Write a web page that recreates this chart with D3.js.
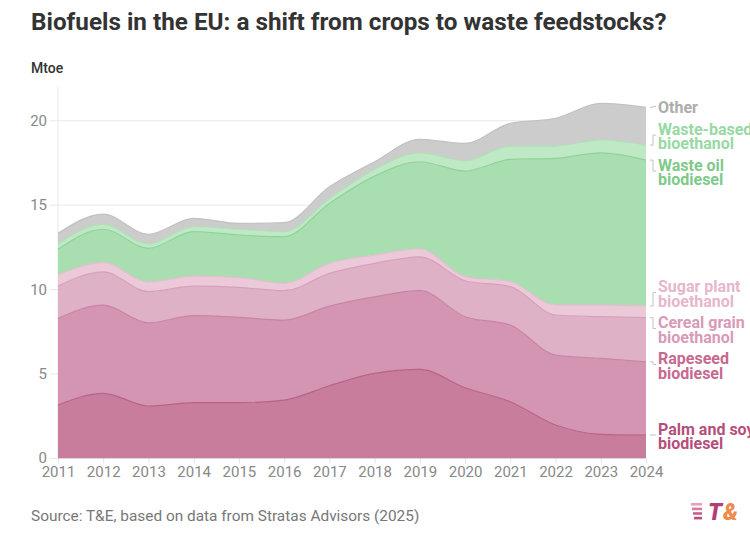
<!DOCTYPE html>
<html>
<head>
<meta charset="utf-8">
<script src="https://cdn.jsdelivr.net/npm/d3@7"></script>
<style>
  body { margin: 0; background: #fff; font-family: Roboto, "Noto Sans", sans-serif; }
  svg text { font-family: Roboto, "Noto Sans", sans-serif; }
</style>
</head>
<body>
<div id="chart"></div>
<script>
var svgWidth = 750;
var svgHeight = 536;

// Data (Mtoe)
var years = [2011, 2012, 2013, 2014, 2015, 2016, 2017, 2018, 2019, 2020, 2021, 2022, 2023, 2024];
var palmSoy = [3.16, 3.85, 3.10, 3.30, 3.30, 3.45, 4.30, 5.03, 5.27, 4.18, 3.35, 1.97, 1.42, 1.38];
var rapeseed = [5.13, 5.23, 4.93, 5.15, 5.05, 4.74, 4.72, 4.54, 4.66, 4.21, 4.55, 4.15, 4.50, 4.34];
var cerealGrain = [1.91, 1.97, 1.84, 1.75, 1.78, 1.74, 1.94, 1.98, 2.01, 2.13, 2.27, 2.37, 2.47, 2.61];
var sugarPlant = [0.66, 0.54, 0.57, 0.60, 0.57, 0.44, 0.59, 0.49, 0.46, 0.24, 0.29, 0.59, 0.69, 0.69];
var wasteOil = [1.52, 1.98, 2.00, 2.63, 2.53, 2.76, 3.55, 4.68, 5.17, 6.26, 7.25, 8.69, 9.02, 8.65];
var wasteEthanol = [0.32, 0.29, 0.26, 0.29, 0.34, 0.30, 0.30, 0.40, 0.53, 0.61, 0.79, 0.73, 0.76, 0.89];
var other = [0.63, 0.61, 0.57, 0.50, 0.35, 0.53, 0.69, 0.45, 0.80, 1.03, 1.35, 1.64, 2.17, 2.24];

var seriesKeys = ["palm", "rapeseed", "cereal", "sugar", "wasteOil", "wasteEth", "other"];
var seriesValues = [palmSoy, rapeseed, cerealGrain, sugarPlant, wasteOil, wasteEthanol, other];
var seriesLabels = [
  ["Palm and soy", "biodiesel"],
  ["Rapeseed", "biodiesel"],
  ["Cereal grain", "bioethanol"],
  ["Sugar plant", "bioethanol"],
  ["Waste oil", "biodiesel"],
  ["Waste-based", "bioethanol"],
  ["Other"]
];
var yTicks = [0, 5, 10, 15, 20];

var fillColors = ["#c97d9d", "#d395b1", "#dfb1c6", "#ebc9d9", "#a9dfb0", "#bfe8c5", "#cccccc"];
var lineColors = ["#b8628a", "#c983a3", "#d7a0ba", "#e6bdd0", "#90d29b", "#afe0b7", "#c2c2c2"];
var labelColors = ["#b44f7c", "#c66990", "#d89ab8", "#e6b6cc", "#7dca8a", "#98d8a4", "#acacac"];

var margin = { top: 87, left: 58, right: 104, bottom: 77 };

var svg = d3.select("#chart")
  .append("svg")
  .attr("width", svgWidth)
  .attr("height", svgHeight);

// table for the stack
var table = years.map(function(y, i) {
  var row = { year: y };
  seriesKeys.forEach(function(k, j) { row[k] = seriesValues[j][i]; });
  return row;
});

var x = d3.scaleLinear()
  .domain([2011, 2024])
  .range([margin.left, svgWidth - margin.right]);

var y = d3.scaleLinear()
  .domain([0, 22])
  .range([458.3, margin.top]);

var stacked = d3.stack().keys(seriesKeys)(table);

// Title
var title = svg.append("text")
  .attr("x", 31)
  .attr("y", 30)
  .attr("font-size", 22)
  .attr("font-weight", 700)
  .attr("fill", "#333")
  .text("Biofuels in the EU: a shift from crops to waste feedstocks?");
var tw = title.node().getComputedTextLength();
if (tw > 0) title.attr("font-size", 22 * 636 / tw);

svg.append("text")
  .attr("x", 31)
  .attr("y", 73)
  .attr("font-size", 14)
  .attr("font-weight", 500)
  .attr("fill", "#333")
  .text("Mtoe");

// gridlines
svg.append("g")
  .selectAll("line")
  .data(yTicks)
  .enter()
  .append("line")
  .attr("x1", margin.left - 8)
  .attr("x2", svgWidth - margin.right)
  .attr("y1", d => y(d))
  .attr("y2", d => y(d))
  .attr("stroke", "#e8e8e8")
  .attr("stroke-width", 1);

// left vertical axis line
svg.append("line")
  .attr("x1", margin.left).attr("x2", margin.left)
  .attr("y1", y(22)).attr("y2", y(0))
  .attr("stroke", "#e8e8e8");

// y tick labels
svg.append("g")
  .selectAll("text")
  .data(yTicks)
  .enter()
  .append("text")
  .attr("x", 47)
  .attr("y", d => y(d) + 5)
  .attr("text-anchor", "end")
  .attr("font-size", 15)
  .attr("fill", "#888")
  .text(d => d);

// x axis
var xAxis = svg.append("g")
  .attr("transform", `translate(0, ${y(0)})`)
  .call(d3.axisBottom(x).tickValues(years).tickFormat(d3.format("d")).tickSize(5).tickPadding(3));
xAxis.select(".domain").remove();
xAxis.selectAll("line").attr("stroke", "#e3e3e3");
xAxis.selectAll("text")
  .attr("font-size", 15)
  .attr("fill", "#888")
  .attr("font-family", "Roboto, sans-serif");

// areas
var area = d3.area()
  .x(d => x(d.data.year))
  .y0(d => y(d[0]))
  .y1(d => y(d[1]))
  .curve(d3.curveMonotoneX);

var topLine = d3.line()
  .x(d => x(d.data.year))
  .y(d => y(d[1]))
  .curve(d3.curveMonotoneX);

svg.append("g")
  .selectAll("path")
  .data(stacked)
  .enter()
  .append("path")
  .attr("d", area)
  .attr("fill", (d, i) => fillColors[i]);

svg.append("g")
  .selectAll("path")
  .data(stacked)
  .enter()
  .append("path")
  .attr("d", topLine)
  .attr("fill", "none")
  .attr("stroke", (d, i) => lineColors[i])
  .attr("stroke-width", 1.2);

// labels at the end, de-overlapped
var lineH = 14.5;
var labels = stacked.map(function(s, i) {
  var last = s[s.length - 1];
  var n = seriesLabels[i].length;
  return { i: i, anchor: y(last[1]), y: y(last[1]), h: n * lineH, lines: seriesLabels[i] };
});
labels.sort((a, b) => a.anchor - b.anchor);
var pad = 7;
for (var iter = 0; iter < 200; iter++) {
  var moved = false;
  for (var k = 0; k < labels.length - 1; k++) {
    var a = labels[k], b = labels[k + 1];
    var minGap = a.h / 2 + b.h / 2 + pad;
    var gap = b.y - a.y;
    if (gap < minGap - 0.01) {
      var push = (minGap - gap) / 2;
      a.y -= push;
      b.y += push;
      moved = true;
    }
  }
  if (!moved) break;
}

var lx = x(2024);
var labelG = svg.append("g");
labels.forEach(function(l) {
  labelG.append("path")
    .attr("d", `M${lx + 4},${l.anchor} h3 V${l.y} h3`)
    .attr("fill", "none")
    .attr("stroke", "#c4c4c4")
    .attr("stroke-width", 1);
  var t = labelG.append("text")
    .attr("x", lx + 12)
    .attr("y", l.y - l.h / 2 + 14)
    .attr("font-size", 16)
    .attr("font-weight", 700)
    .attr("fill", labelColors[l.i]);
  l.lines.forEach(function(line, j) {
    t.append("tspan")
      .attr("x", lx + 12)
      .attr("dy", j === 0 ? 0 : lineH)
      .text(line);
  });
});

// source
svg.append("text")
  .attr("x", 31)
  .attr("y", 521)
  .attr("font-size", 15.4)
  .attr("fill", "#777")
  .text("Source: T&E, based on data from Stratas Advisors (2025)");

// logo
var logo = svg.append("g").attr("transform", "translate(691, 503)");
var stripeW = [11, 10, 9, 8];
stripeW.forEach(function(w, i) {
  logo.append("rect")
    .attr("x", 11 - w)
    .attr("y", i * 4.6)
    .attr("width", w)
    .attr("height", 2.6)
    .attr("fill", ["#e9a0c0", "#d67aa3", "#c95e8d", "#bd4a7d"][i]);
});
logo.append("text")
  .attr("x", 17)
  .attr("y", 17)
  .attr("font-size", 23)
  .attr("font-weight", 900)
  .attr("font-style", "italic")
  .attr("fill", "#b23f77")
  .text("T");
logo.append("text")
  .attr("x", 32)
  .attr("y", 17)
  .attr("font-size", 23)
  .attr("font-weight", 900)
  .attr("font-style", "italic")
  .attr("fill", "#f08a4a")
  .text("&");
</script>
</body>
</html>
